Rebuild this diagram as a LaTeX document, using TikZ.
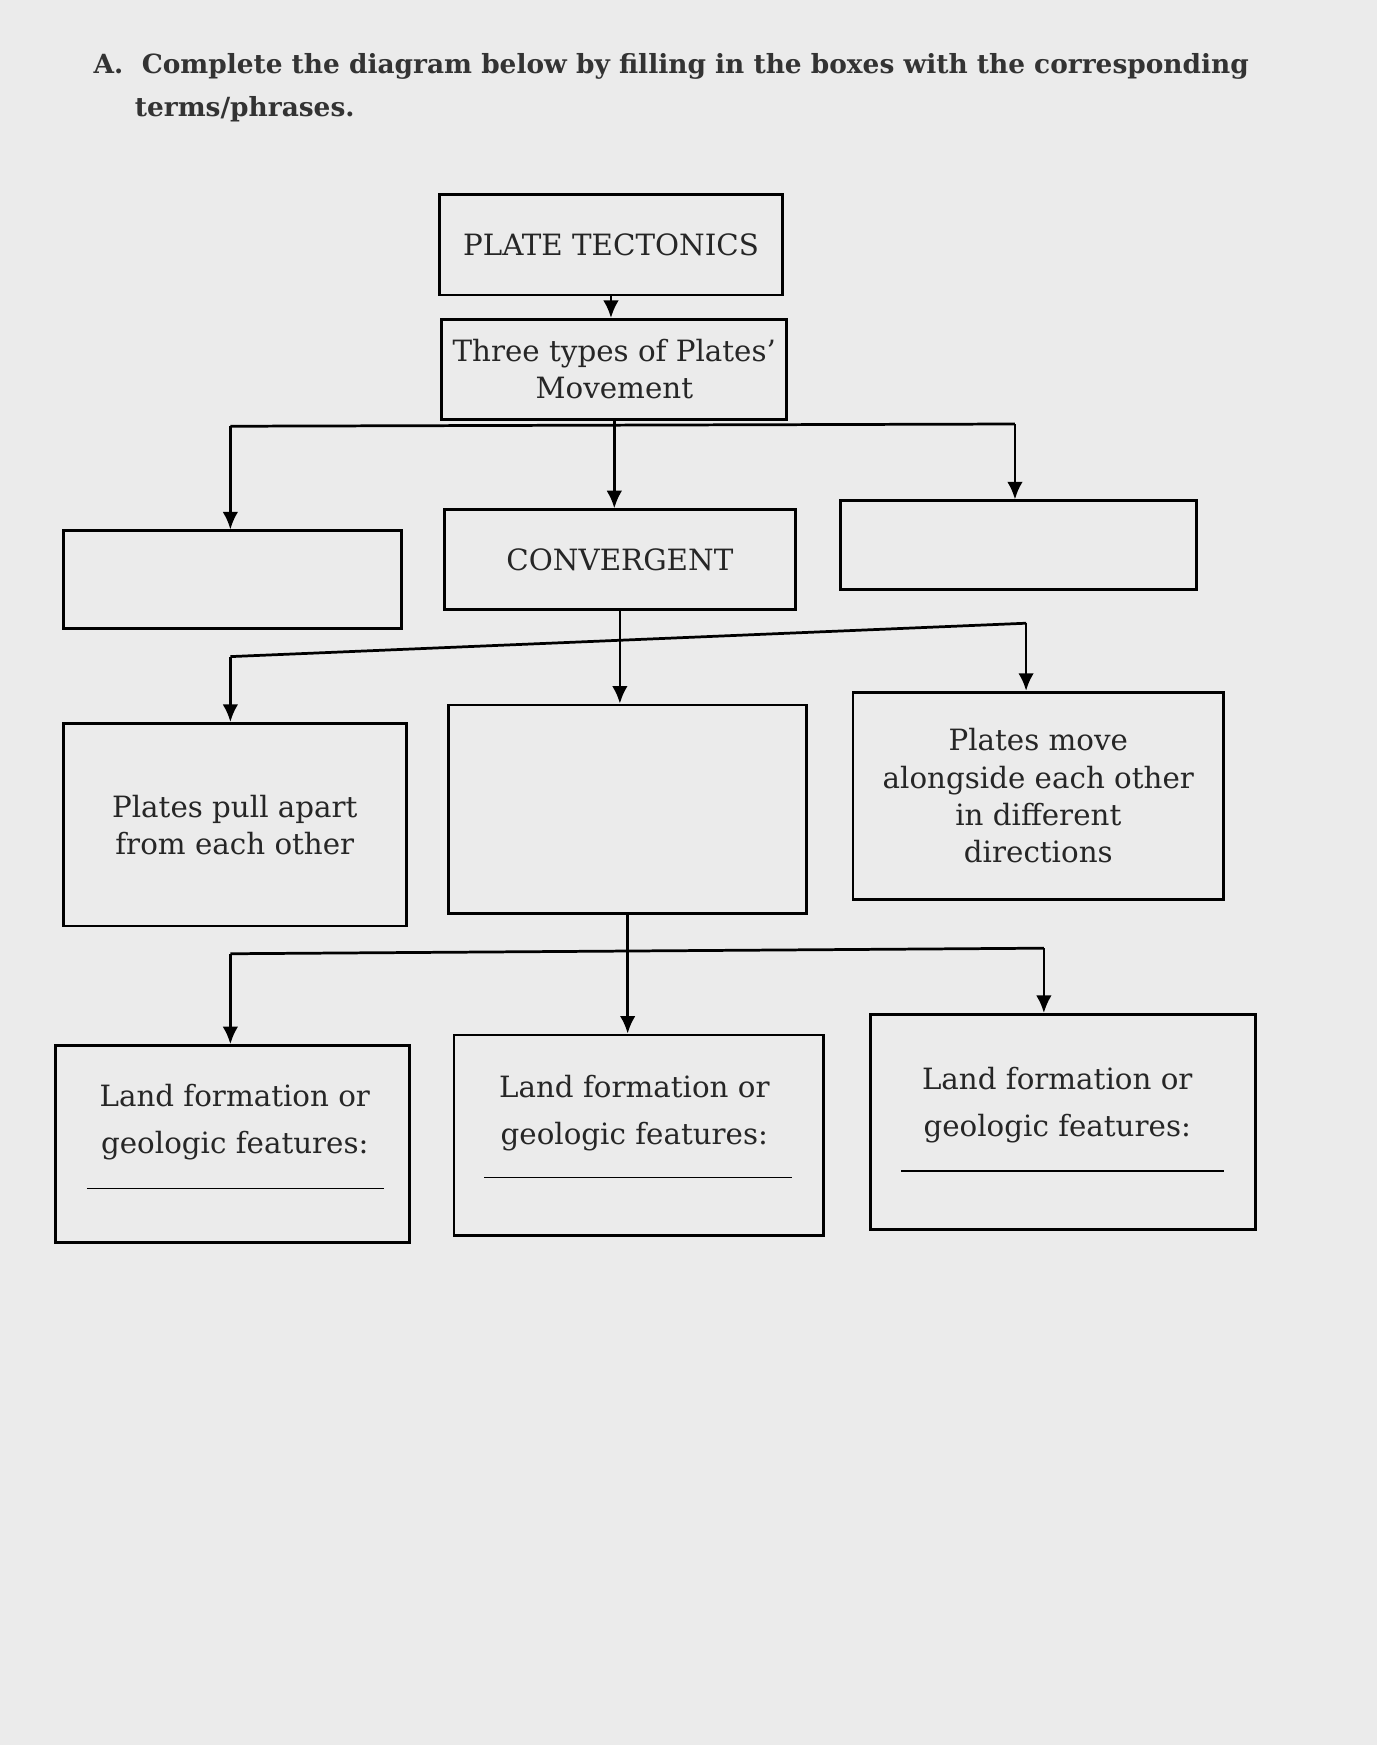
\documentclass[tikz,border=0pt]{standalone}
\usepackage{fontspec}
\setmainfont{DejaVu Serif}
\usetikzlibrary{arrows.meta}
\begin{document}
\begin{tikzpicture}[x=0.02cm,y=-0.02cm,
  box/.style={draw,line width=1.4pt,inner sep=0pt,font=\fontsize{15}{19}\selectfont,align=center,text=black!85},
  sz/.style 2 args={minimum width={#1*0.02cm},minimum height={#2*0.02cm}},
  lbl/.style={font=\fontsize{15}{24}\selectfont,align=center,text=black!85},
  ln/.style={line width=1.4pt},
  ar/.style={line width=1.4pt,-{Latex[length=9pt,width=8pt]}}]
\fill[black!8] (0,0) rectangle (1237,1568);
\useasboundingbox (0,0) rectangle (1237,1568);
\node[anchor=west,font=\bfseries\fontsize{13.5}{16}\selectfont,text=black!80] (t1) at (78,60) {A.\ \ Complete the diagram below by filling in the boxes with the corresponding};
\node[anchor=west,font=\bfseries\fontsize{13.5}{16}\selectfont,text=black!80] (t2) at (115,98) {terms/phrases.};
\node[box,sz={308}{90}] (pt) at (549,220) {PLATE TECTONICS};
\node[box,sz={310}{90}] (three) at (552,332) {Three types of Plates'\\Movement};
\node[box,sz={304}{88}] (a) at (209,521) {};
\node[box,sz={315}{90}] (conv) at (557,503) {CONVERGENT};
\node[box,sz={320}{80}] (c) at (915,490) {};
\node[box,sz={308}{182}] (d) at (211,741) {Plates pull apart\\from each other};
\node[box,sz={322}{187}] (e) at (564,727) {};
\node[box,sz={333}{186}] (f) at (933,715) {Plates move\\alongside each other\\in different\\directions};
\node[box,sz={318}{177}] (g) at (209,1028) {};
\node[box,sz={332}{180}] (h) at (574,1020) {};
\node[box,sz={346}{193}] (i) at (955,1008) {};
\node[lbl] (gt) at (211,1008) {Land formation or\\geologic features:};
\node[lbl] (ht) at (570,1000) {Land formation or\\geologic features:};
\node[lbl] (it) at (950,993) {Land formation or\\geologic features:};
\coordinate (g1) at (78,1068); \coordinate (g2) at (345,1068);
\coordinate (h1) at (435,1058); \coordinate (h2) at (712,1058);
\coordinate (i1) at (810,1052); \coordinate (i2) at (1100,1052);
\draw[line width=0.8pt] (g1)--(g2); \draw[line width=0.8pt] (h1)--(h2); \draw[line width=0.8pt] (i1)--(i2);
\draw[ar] (pt.south) -- (pt.south |- three.north);
\coordinate (h1l) at (207,383); \coordinate (h1r) at (912,381);
\draw[ar] (three.south) -- (three.south |- conv.north);
\draw[ln] (h1l) -- (h1r);
\draw[ar] (h1l) -- (a.north -| h1l);
\draw[ar] (h1r) -- (c.north -| h1r);
\coordinate (h2l) at (207,590); \coordinate (h2r) at (922,560);
\draw[ar] (conv.south) -- (conv.south |- e.north);
\draw[ln] (h2l) -- (h2r);
\draw[ar] (h2l) -- (d.north -| h2l);
\draw[ar] (h2r) -- (f.north -| h2r);
\coordinate (h3l) at (207,857); \coordinate (h3r) at (938,852);
\draw[ar] (e.south) -- (e.south |- h.north);
\draw[ln] (h3l) -- (h3r);
\draw[ar] (h3l) -- (g.north -| h3l);
\draw[ar] (h3r) -- (i.north -| h3r);
\end{tikzpicture}
\end{document}
